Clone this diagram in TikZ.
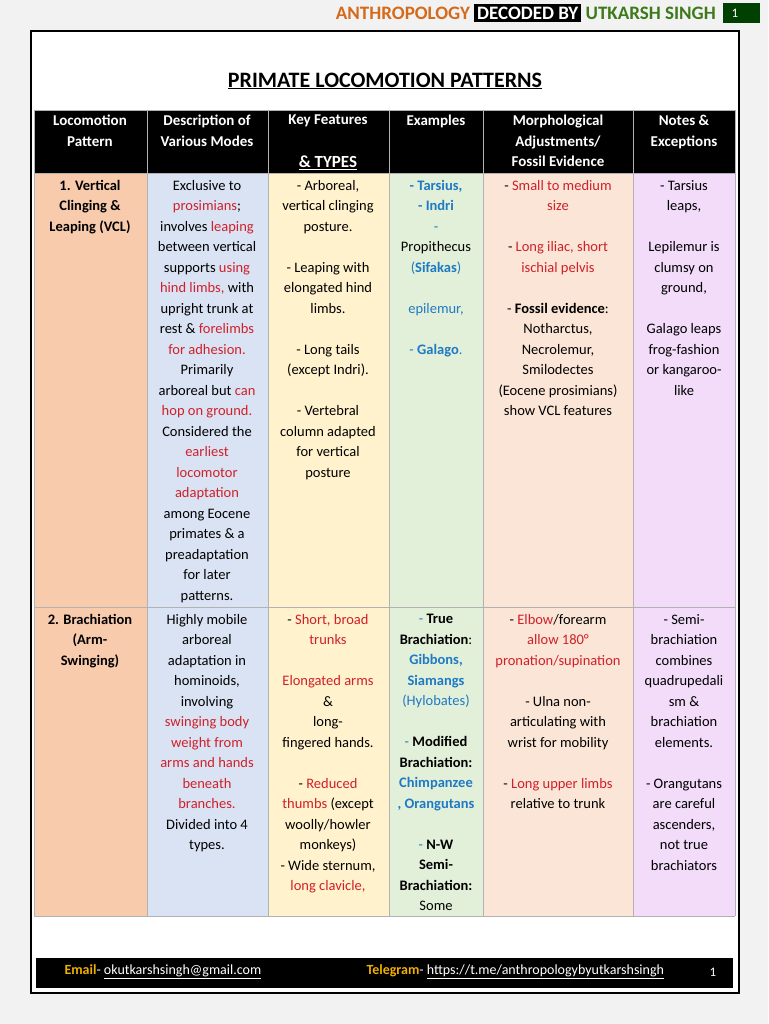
\documentclass[tikz,border=0pt]{standalone}
\usepackage{fontspec}
\setmainfont{Carlito}
\definecolor{rd}{HTML}{D0202A}
\definecolor{bl}{HTML}{1F7AC4}
\definecolor{c1}{HTML}{F8CBAD}
\definecolor{c2}{HTML}{DAE3F3}
\definecolor{c3}{HTML}{FFF2CC}
\definecolor{c4}{HTML}{E2F0D9}
\definecolor{c5}{HTML}{FBE5D6}
\definecolor{c6}{HTML}{F2DCF9}
\definecolor{og}{HTML}{D46A1A}
\definecolor{gn}{HTML}{3E7A1A}
\definecolor{yl}{HTML}{F0B000}
\newcommand{\R}[1]{\textcolor{rd}{#1}}
\newcommand{\B}[1]{\textcolor{bl}{#1}}
\begin{document}
\begin{tikzpicture}[x=1pt,y=-1pt,
  cell/.style={anchor=north,inner sep=0pt,align=center,font=\fontsize{14.5}{20.5}\selectfont},
  hdr/.style={anchor=north,inner sep=0pt,align=center,text=white,font=\bfseries\fontsize{15}{20.5}\selectfont}]
\useasboundingbox (0,0) rectangle (768,1024);
\fill[gray!10] (0,0) rectangle (768,1024);
\node[anchor=east,inner sep=0pt,font=\bfseries\fontsize{19}{20}\selectfont] (brand) at (716,13) {\textcolor{og}{ANTHROPOLOGY} \colorbox{black}{\textcolor{white}{DECODED BY}} \textcolor{gn}{UTKARSH SINGH}};
\fill[green!25!black] (723,3) rectangle (760,23);
\node[text=white,font=\fontsize{13}{14}\selectfont] (pg) at (735,13) {1};
\draw[line width=1.2pt,fill=white] (31,31) rectangle (739,993);
\node[font=\bfseries\fontsize{22}{24}\selectfont] (title) at (385,81) {\underline{PRIMATE LOCOMOTION PATTERNS}};
\fill[black] (34,110) rectangle (735,173);
\fill[c1] (34,173) rectangle (147,916);
\fill[c2] (147,173) rectangle (268,916);
\fill[c3] (268,173) rectangle (389,916);
\fill[c4] (389,173) rectangle (483,916);
\fill[c5] (483,173) rectangle (633,916);
\fill[c6] (633,173) rectangle (735,916);
\foreach \x in {34,147,268,389,483,633,735} \draw[gray!60] (\x,110) -- (\x,916);
\foreach \y in {110,173,607,916} \draw[gray!60] (34,\y) -- (735,\y);
% header
\node[hdr] (h1) at (90,115) {Locomotion\\Pattern};
\node[hdr] (h2) at (207,115) {Description of\\Various Modes};
\node[hdr] (h3) at (328,115) {Key Features};
\node[hdr,font=\bfseries\fontsize{17}{18}\selectfont] (h3b) at (328,156) {\underline{\& TYPES}};
\node[hdr] (h4) at (436,115) {Examples};
\node[hdr] (h5) at (558,115) {Morphological\\Adjustments/\\Fossil Evidence};
\node[hdr] (h6) at (684,115) {Notes \&\\Exceptions};
% row 1
\node[cell,font=\bfseries\fontsize{14.5}{20.5}\selectfont] (a1) at (90,180) {1. Vertical\\Clinging \&\\Leaping (VCL)};
\node[cell] (b1) at (207,180) {Exclusive to\\\R{prosimians};\\involves \R{leaping}\\between vertical\\supports \R{using}\\\R{hind limbs,} with\\upright trunk at\\rest \& \R{forelimbs}\\\R{for adhesion.}\\Primarily\\arboreal but \R{can}\\\R{hop on ground.}\\Considered the\\\R{earliest}\\\R{locomotor}\\\R{adaptation}\\among Eocene\\primates \& a\\preadaptation\\for later\\patterns.};
\node[cell] (c1n) at (328,180) {- Arboreal,\\vertical clinging\\posture.\\[20.5pt]- Leaping with\\elongated hind\\limbs.\\[20.5pt]- Long tails\\(except Indri).\\[20.5pt]- Vertebral\\column adapted\\for vertical\\posture};
\node[cell] (d1) at (436,180) {\B{\textbf{- Tarsius,}}\\\B{\textbf{- Indri}}\\\B{-}\\Propithecus\\\B{(\textbf{Sifakas})}\\[20.5pt]\B{epilemur,}\\[20.5pt]\B{- \textbf{Galago}.}};
\node[cell] (e1) at (558,180) {- \R{Small to medium}\\\R{size}\\[20.5pt]- \R{Long iliac, short}\\\R{ischial pelvis}\\[20.5pt]- \textbf{Fossil evidence}:\\Notharctus,\\Necrolemur,\\Smilodectes\\(Eocene prosimians)\\show VCL features};
\node[cell] (f1) at (684,180) {- Tarsius\\leaps,\\[20.5pt]Lepilemur is\\clumsy on\\ground,\\[20.5pt]Galago leaps\\frog-fashion\\or kangaroo-\\like};
% row 2
\node[cell,font=\bfseries\fontsize{14.5}{20.5}\selectfont] (a2) at (90,614) {2. Brachiation\\(Arm-\\Swinging)};
\node[cell] (b2) at (207,614) {Highly mobile\\arboreal\\adaptation in\\hominoids,\\involving\\\R{swinging body}\\\R{weight from}\\\R{arms and hands}\\\R{beneath}\\\R{branches.}\\Divided into 4\\types.};
\node[cell] (c2n) at (328,614) {- \R{Short, broad}\\\R{trunks}\\[20.5pt]\R{Elongated arms}\\\&\\long-\\fingered hands.\\[20.5pt]- \R{Reduced}\\\R{thumbs} (except\\woolly/howler\\monkeys)\\- Wide sternum,\\\R{long clavicle,}};
\node[cell] (d2) at (436,614) {\B{-} \textbf{True}\\\textbf{Brachiation}:\\\B{\textbf{Gibbons,}}\\\B{\textbf{Siamangs}}\\\B{(Hylobates)}\\[20.5pt]\B{-} \textbf{Modified}\\\textbf{Brachiation:}\\\B{\textbf{Chimpanzee}}\\\B{\textbf{, Orangutans}}\\[20.5pt]\B{-} \textbf{N-W}\\\textbf{Semi-}\\\textbf{Brachiation:}\\Some};
\node[cell] (e2) at (558,614) {- \R{Elbow}/forearm\\\R{allow 180°}\\\R{pronation/supination}\\[20.5pt]- Ulna non-\\articulating with\\wrist for mobility\\[20.5pt]- \R{Long upper limbs}\\relative to trunk};
\node[cell] (f2) at (684,614) {- Semi-\\brachiation\\combines\\quadrupedali\\sm \&\\brachiation\\elements.\\[20.5pt]- Orangutans\\are careful\\ascenders,\\not true\\brachiators};
% footer
\fill[black] (36,958) rectangle (733,988);
\node[anchor=west,font=\bfseries\fontsize{14}{14}\selectfont] (em) at (61,972) {\textcolor{yl}{Email}\textcolor{white}{\mdseries- \underline{okutkarshsingh@gmail.com}}};
\node[anchor=west,font=\bfseries\fontsize{14}{14}\selectfont] (tg) at (363,972) {\textcolor{yl}{Telegram}\textcolor{white}{\mdseries- \underline{https://t.me/anthropologybyutkarshsingh}}};
\node[text=white,font=\fontsize{13}{14}\selectfont] (pn) at (713,972) {1};
\end{tikzpicture}
\end{document}
